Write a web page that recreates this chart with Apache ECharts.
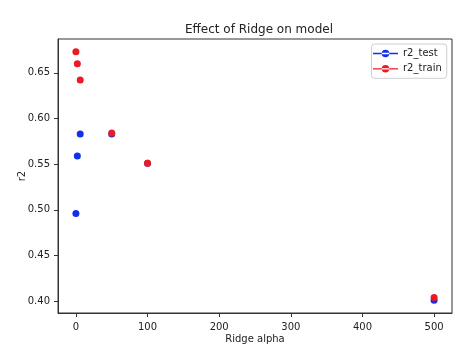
<!DOCTYPE html>
<html><head><meta charset="utf-8">
<script src="https://cdn.jsdelivr.net/npm/echarts@6/dist/echarts.min.js"></script>
<style>html,body{margin:0;padding:0;background:#fff}#c{width:474px;height:353px}</style>
</head><body><div id="c"></div>
<script>
const alphas = [0, 2, 6, 50, 100, 500];
const r2Test = [0.496, 0.559, 0.583, 0.583, 0.551, 0.401];
const r2Train = [0.673, 0.660, 0.642, 0.584, 0.551, 0.404];
const xTicks = [0, 100, 200, 300, 400, 500];
const yTicks = [0.40, 0.45, 0.50, 0.55, 0.60, 0.65];

const FONT = 'DejaVu Sans';
const TXT = '#222';
const AX = '#333';
const BLUE = '#1230ec';
const RED = '#ec1a22';
const icon = 'path://M0,4.2H30V5.8H0Z M10.5,5A4.5,4.5 0 1,0 19.5,5A4.5,4.5 0 1,0 10.5,5Z';

const chart = echarts.init(document.getElementById('c'), null, {renderer: 'canvas'});
chart.setOption({
  animation: false,
  backgroundColor: '#fff',
  title: {
    text: 'Effect of Ridge on model', left: 254, top: 19, textAlign: 'center',
    textStyle: {fontFamily: FONT, fontSize: 12, fontWeight: 'normal', color: TXT}
  },
  legend: {
    orient: 'vertical', left: 371.5, top: 44,
    padding: [3, 5, 3, 1.5], itemGap: 2.3,
    itemWidth: 25, itemHeight: 8,
    borderColor: '#cfcfcf', borderWidth: 1, borderRadius: 3,
    textStyle: {fontFamily: FONT, fontSize: 10, color: TXT, lineHeight: 13},
    data: [{name: 'r2_test', icon: icon}, {name: 'r2_train', icon: icon}]
  },
  grid: {left: 58, right: 22, top: 39, bottom: 40, show: true, borderColor: AX, borderWidth: 1, containLabel: false},
  xAxis: {
    type: 'value', min: -25, max: 525,
    name: 'Ridge alpha', nameLocation: 'middle', nameGap: 21, nameMoveOverlap: false,
    nameTextStyle: {fontFamily: FONT, fontSize: 10, color: TXT},
    axisLine: {show: true, onZero: false, lineStyle: {color: AX}},
    axisTick: {show: true, length: 4, inside: false, lineStyle: {color: AX}, customValues: xTicks},
    axisLabel: {fontFamily: FONT, fontSize: 10, color: TXT, margin: 9, customValues: xTicks},
    splitLine: {show: false}
  },
  yAxis: {
    type: 'value', min: 0.387, max: 0.687,
    name: 'r2', nameLocation: 'middle', nameGap: 31, nameRotate: 90, nameMoveOverlap: false,
    nameTextStyle: {fontFamily: FONT, fontSize: 10, color: TXT},
    axisLine: {show: true, onZero: false, lineStyle: {color: AX}},
    axisTick: {show: true, length: 4, inside: false, lineStyle: {color: AX}, customValues: yTicks},
    axisLabel: {fontFamily: FONT, fontSize: 10, color: TXT, margin: 8,
      customValues: yTicks, formatter: v => v.toFixed(2)},
    splitLine: {show: false}
  },
  series: [
    {name: 'r2_test', type: 'scatter', symbol: 'circle', symbolSize: 7,
     itemStyle: {color: BLUE, opacity: 1}, z: 2,
     data: alphas.map((a, i) => [a, r2Test[i]])},
    {name: 'r2_train', type: 'scatter', symbol: 'circle', symbolSize: 7,
     itemStyle: {color: RED, opacity: 1}, z: 3,
     data: alphas.map((a, i) => [a, r2Train[i]])}
  ]
});
</script></body></html>
